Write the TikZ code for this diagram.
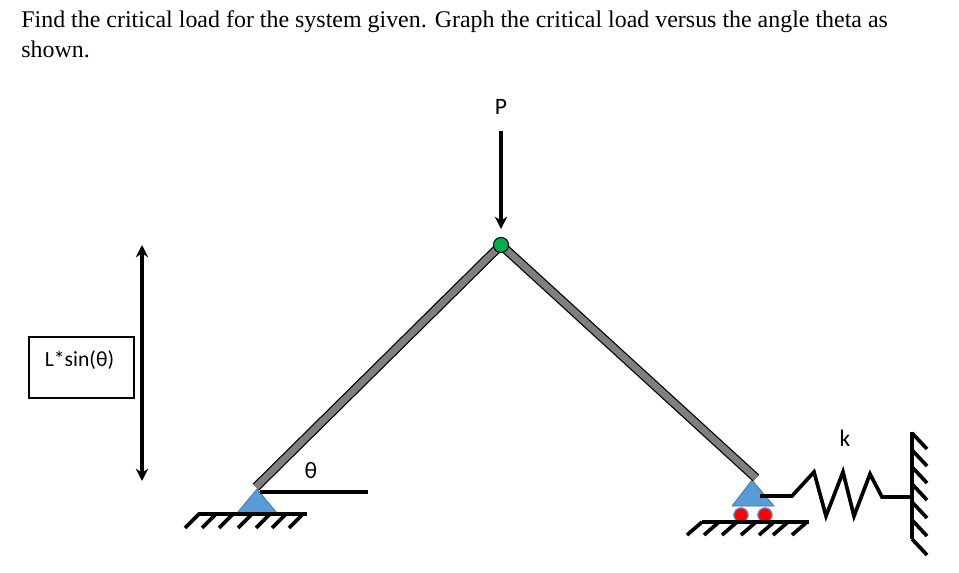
\documentclass[tikz,border=0pt]{standalone}
\usepackage{fontspec}
\setmainfont{Liberation Serif}
\newfontfamily\labelfont{Carlito}
\usetikzlibrary{arrows.meta}
\definecolor{barfill}{HTML}{7F7F7F}
\definecolor{pinblue}{HTML}{5B9BD5}
\definecolor{pinedge}{HTML}{41719C}
\definecolor{hingegreen}{HTML}{00B050}
\tikzset{
	x=0.02cm, y=-0.02cm,
	thick line/.style={line width=2.1pt},
	load arrow/.style={thick line, -{Stealth[length=7pt,width=7pt]}},
	bar/.style={line width=0.7pt, double=barfill, double distance=3.9pt},
	pin/.style={fill=pinblue, draw=pinedge, line width=0.4pt},
	wheel/.style={circle, fill=red, draw=pinblue, line width=0.7pt, minimum size=8.2pt, inner sep=0pt},
	label text/.style={font=\labelfont\fontsize{13.4}{15}\selectfont, inner sep=1pt},
}

\begin{document}
\begin{tikzpicture}
	\useasboundingbox (0,0) rectangle (959,573);

	% problem text
	\node[anchor=north west, align=left, inner sep=0pt, font=\fontsize{13.62}{17}\selectfont] (task) at (21,10)
		{Find the critical load for the system given. Graph the critical load versus the angle theta as\\shown.};

	% points
	\coordinate (pinL) at (256,487);
	\coordinate (pinR) at (756,478);
	\coordinate (apex) at (501,245);
	\coordinate (thetaEnd) at (368,492);
	\coordinate (thetaStart) at (260,492);
	\coordinate (dimTop) at (142,245);
	\coordinate (dimBottom) at (142,481);
	\coordinate (springL) at (760,496);
	\coordinate (springR) at (912,497);
	\coordinate (wallTop) at (912,432);
	\coordinate (wallBottom) at (912,539);
	\coordinate (groundLa) at (198,514);
	\coordinate (groundLb) at (307,514);
	\coordinate (groundRa) at (702,522);
	\coordinate (groundRb) at (809,522);

	% supports
	\filldraw[pin] (257,489) -- (277,513) -- (237,513) -- cycle;
	\filldraw[pin] (752,480) -- (774,506) -- (732,506) -- cycle;
	\node[wheel] (wheel1) at (741,515) {};
	\node[wheel] (wheel2) at (765,515) {};

	% ground hatching
	\draw[thick line] (groundLa) -- (groundLb);
	\foreach \x in {199,216,233,252,270,286,303}
		\draw[thick line] (\x,514) -- ++(-14,14);
	\draw[thick line] (groundRa) -- (groundRb);
	\foreach \x in {702,719,737,756,774,788,807}
		\draw[thick line] (\x,522) -- ++(-15,13);
	\draw[thick line] (wallTop) -- (wallBottom);
	\foreach \y in {433,450,467,484,502,520,539}
		\draw[thick line] (912,\y) -- ++(15,16);

	% frame
	\draw[bar] (pinL) -- (apex);
	\draw[bar] (pinR) -- (apex);
	\node[circle, fill=hingegreen, draw=black, line width=0.6pt, minimum size=8.6pt, inner sep=0pt] (hinge) at (apex) {};

	% load, angle, spring
	\node[label text] (P) at (501,107) {P};
	\draw[load arrow, shorten <=8pt, shorten >=4.5pt] (P) -- (hinge);
	\draw[thick line] (thetaStart) -- (thetaEnd);
	\node[label text] (theta) at (311,471) {θ};
	\node[label text] (k) at (845,438) {k};
	\draw[thick line] (springL) -- (792,496) -- (814,472) -- (826,516) -- (843,472) -- (854,516) -- (870,474) -- (882,497) -- (springR);

	% height
	\draw[thick line, {Stealth[length=7pt,width=7pt]}-{Stealth[length=7pt,width=7pt]}] (dimTop) -- (dimBottom);
	\node[draw, line width=1.2pt, minimum width=59.7pt, inner sep=0pt, text height=16.6pt, text depth=18pt, font=\labelfont\fontsize{12.3}{14}\selectfont] (height) at (81.5,367.5) {L*sin(θ)\hspace*{2.3pt}};
\end{tikzpicture}
\end{document}
